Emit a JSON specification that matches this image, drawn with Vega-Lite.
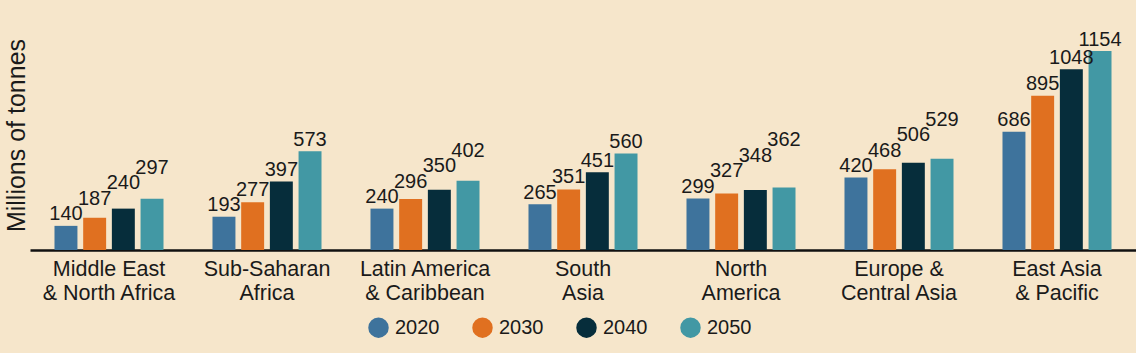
{
  "$schema": "https://vega.github.io/schema/vega-lite/v6.json",
  "width": 1106,
  "height": 250,
  "autosize": "none",
  "padding": {"left": 30, "top": 0, "right": 0, "bottom": 103},
  "background": "#F6E6CB",
  "config": {
    "view": {"stroke": null},
    "font": "Liberation Sans",
    "text": {"font": "Liberation Sans"}
  },
  "data": {
    "values": [
      {"region": "Middle East|& North Africa", "year": "2020", "value": 140},
      {"region": "Middle East|& North Africa", "year": "2030", "value": 187},
      {"region": "Middle East|& North Africa", "year": "2040", "value": 240},
      {"region": "Middle East|& North Africa", "year": "2050", "value": 297},
      {"region": "Sub-Saharan|Africa", "year": "2020", "value": 193},
      {"region": "Sub-Saharan|Africa", "year": "2030", "value": 277},
      {"region": "Sub-Saharan|Africa", "year": "2040", "value": 397},
      {"region": "Sub-Saharan|Africa", "year": "2050", "value": 573},
      {"region": "Latin America|& Caribbean", "year": "2020", "value": 240},
      {"region": "Latin America|& Caribbean", "year": "2030", "value": 296},
      {"region": "Latin America|& Caribbean", "year": "2040", "value": 350},
      {"region": "Latin America|& Caribbean", "year": "2050", "value": 402},
      {"region": "South|Asia", "year": "2020", "value": 265},
      {"region": "South|Asia", "year": "2030", "value": 351},
      {"region": "South|Asia", "year": "2040", "value": 451},
      {"region": "South|Asia", "year": "2050", "value": 560},
      {"region": "North|America", "year": "2020", "value": 299},
      {"region": "North|America", "year": "2030", "value": 327},
      {"region": "North|America", "year": "2040", "value": 348},
      {"region": "North|America", "year": "2050", "value": 362},
      {"region": "Europe &|Central Asia", "year": "2020", "value": 420},
      {"region": "Europe &|Central Asia", "year": "2030", "value": 468},
      {"region": "Europe &|Central Asia", "year": "2040", "value": 506},
      {"region": "Europe &|Central Asia", "year": "2050", "value": 529},
      {"region": "East Asia|& Pacific", "year": "2020", "value": 686},
      {"region": "East Asia|& Pacific", "year": "2030", "value": 895},
      {"region": "East Asia|& Pacific", "year": "2040", "value": 1048},
      {"region": "East Asia|& Pacific", "year": "2050", "value": 1154}
    ]
  },
  "encoding": {
    "x": {
      "field": "region",
      "type": "nominal",
      "sort": null,
      "scale": {"paddingInner": 0.31, "paddingOuter": 0.155},
      "axis": {
        "title": null,
        "labelAngle": 0,
        "labelExpr": "split(datum.value, '|')",
        "labelFontSize": 21.5,
        "labelColor": "#1a1a1a",
        "labelLineHeight": 24,
        "labelPadding": 8,
        "ticks": false,
        "domainColor": "#111111",
        "domainWidth": 2.5
      }
    },
    "xOffset": {"field": "year", "type": "nominal", "scale": {"paddingInner": 0.2}}
  },
  "layer": [
    {
      "mark": {"type": "bar"},
      "encoding": {
        "y": {
          "field": "value",
          "type": "quantitative",
          "scale": {"domain": [0, 1450], "nice": false},
          "axis": {
            "title": "Millions of tonnes",
            "titleFontSize": 25,
            "titleFontWeight": "normal",
            "titleColor": "#1a1a1a",
            "titlePadding": 1,
            "titleY": 135,
            "titleAlign": "center",
            "labels": false,
            "ticks": false,
            "domain": false,
            "grid": false
          }
        },
        "color": {
          "field": "year",
          "type": "nominal",
          "scale": {"domain": ["2020", "2030", "2040", "2050"], "range": ["#3E739C", "#E07020", "#062D3B", "#4298A4"]},
          "legend": {
            "title": null,
            "orient": "none",
            "direction": "horizontal",
            "legendX": 338,
            "legendY": 317,
            "symbolType": "circle",
            "symbolSize": 420,
            "symbolStrokeWidth": 0,
            "labelFontSize": 20,
            "labelColor": "#1a1a1a",
            "columnPadding": 32,
            "labelOffset": 6
          }
        }
      }
    },
    {
      "transform": [
        {"window": [{"op": "row_number", "as": "idx"}], "groupby": ["region"], "sort": [{"field": "year"}]},
        {"calculate": "datum.value + 32 - datum.idx * 90", "as": "k"},
        {"window": [{"op": "max", "field": "k", "as": "km"}], "groupby": ["region"], "sort": [{"field": "year"}], "frame": [null, 0]},
        {"calculate": "datum.km + datum.idx * 90", "as": "labelPos"}
      ],
      "mark": {"type": "text", "baseline": "alphabetic", "fontSize": 20, "color": "#1a1a1a"},
      "encoding": {
        "y": {
          "field": "labelPos",
          "type": "quantitative",
          "scale": {"domain": [0, 1450], "nice": false},
          "axis": {
            "title": "Millions of tonnes",
            "titleFontSize": 25,
            "titleFontWeight": "normal",
            "titleColor": "#1a1a1a",
            "titlePadding": 1,
            "titleY": 135,
            "titleAlign": "center",
            "labels": false,
            "ticks": false,
            "domain": false,
            "grid": false
          }
        },
        "text": {"field": "value", "type": "quantitative"}
      }
    }
  ]
}
